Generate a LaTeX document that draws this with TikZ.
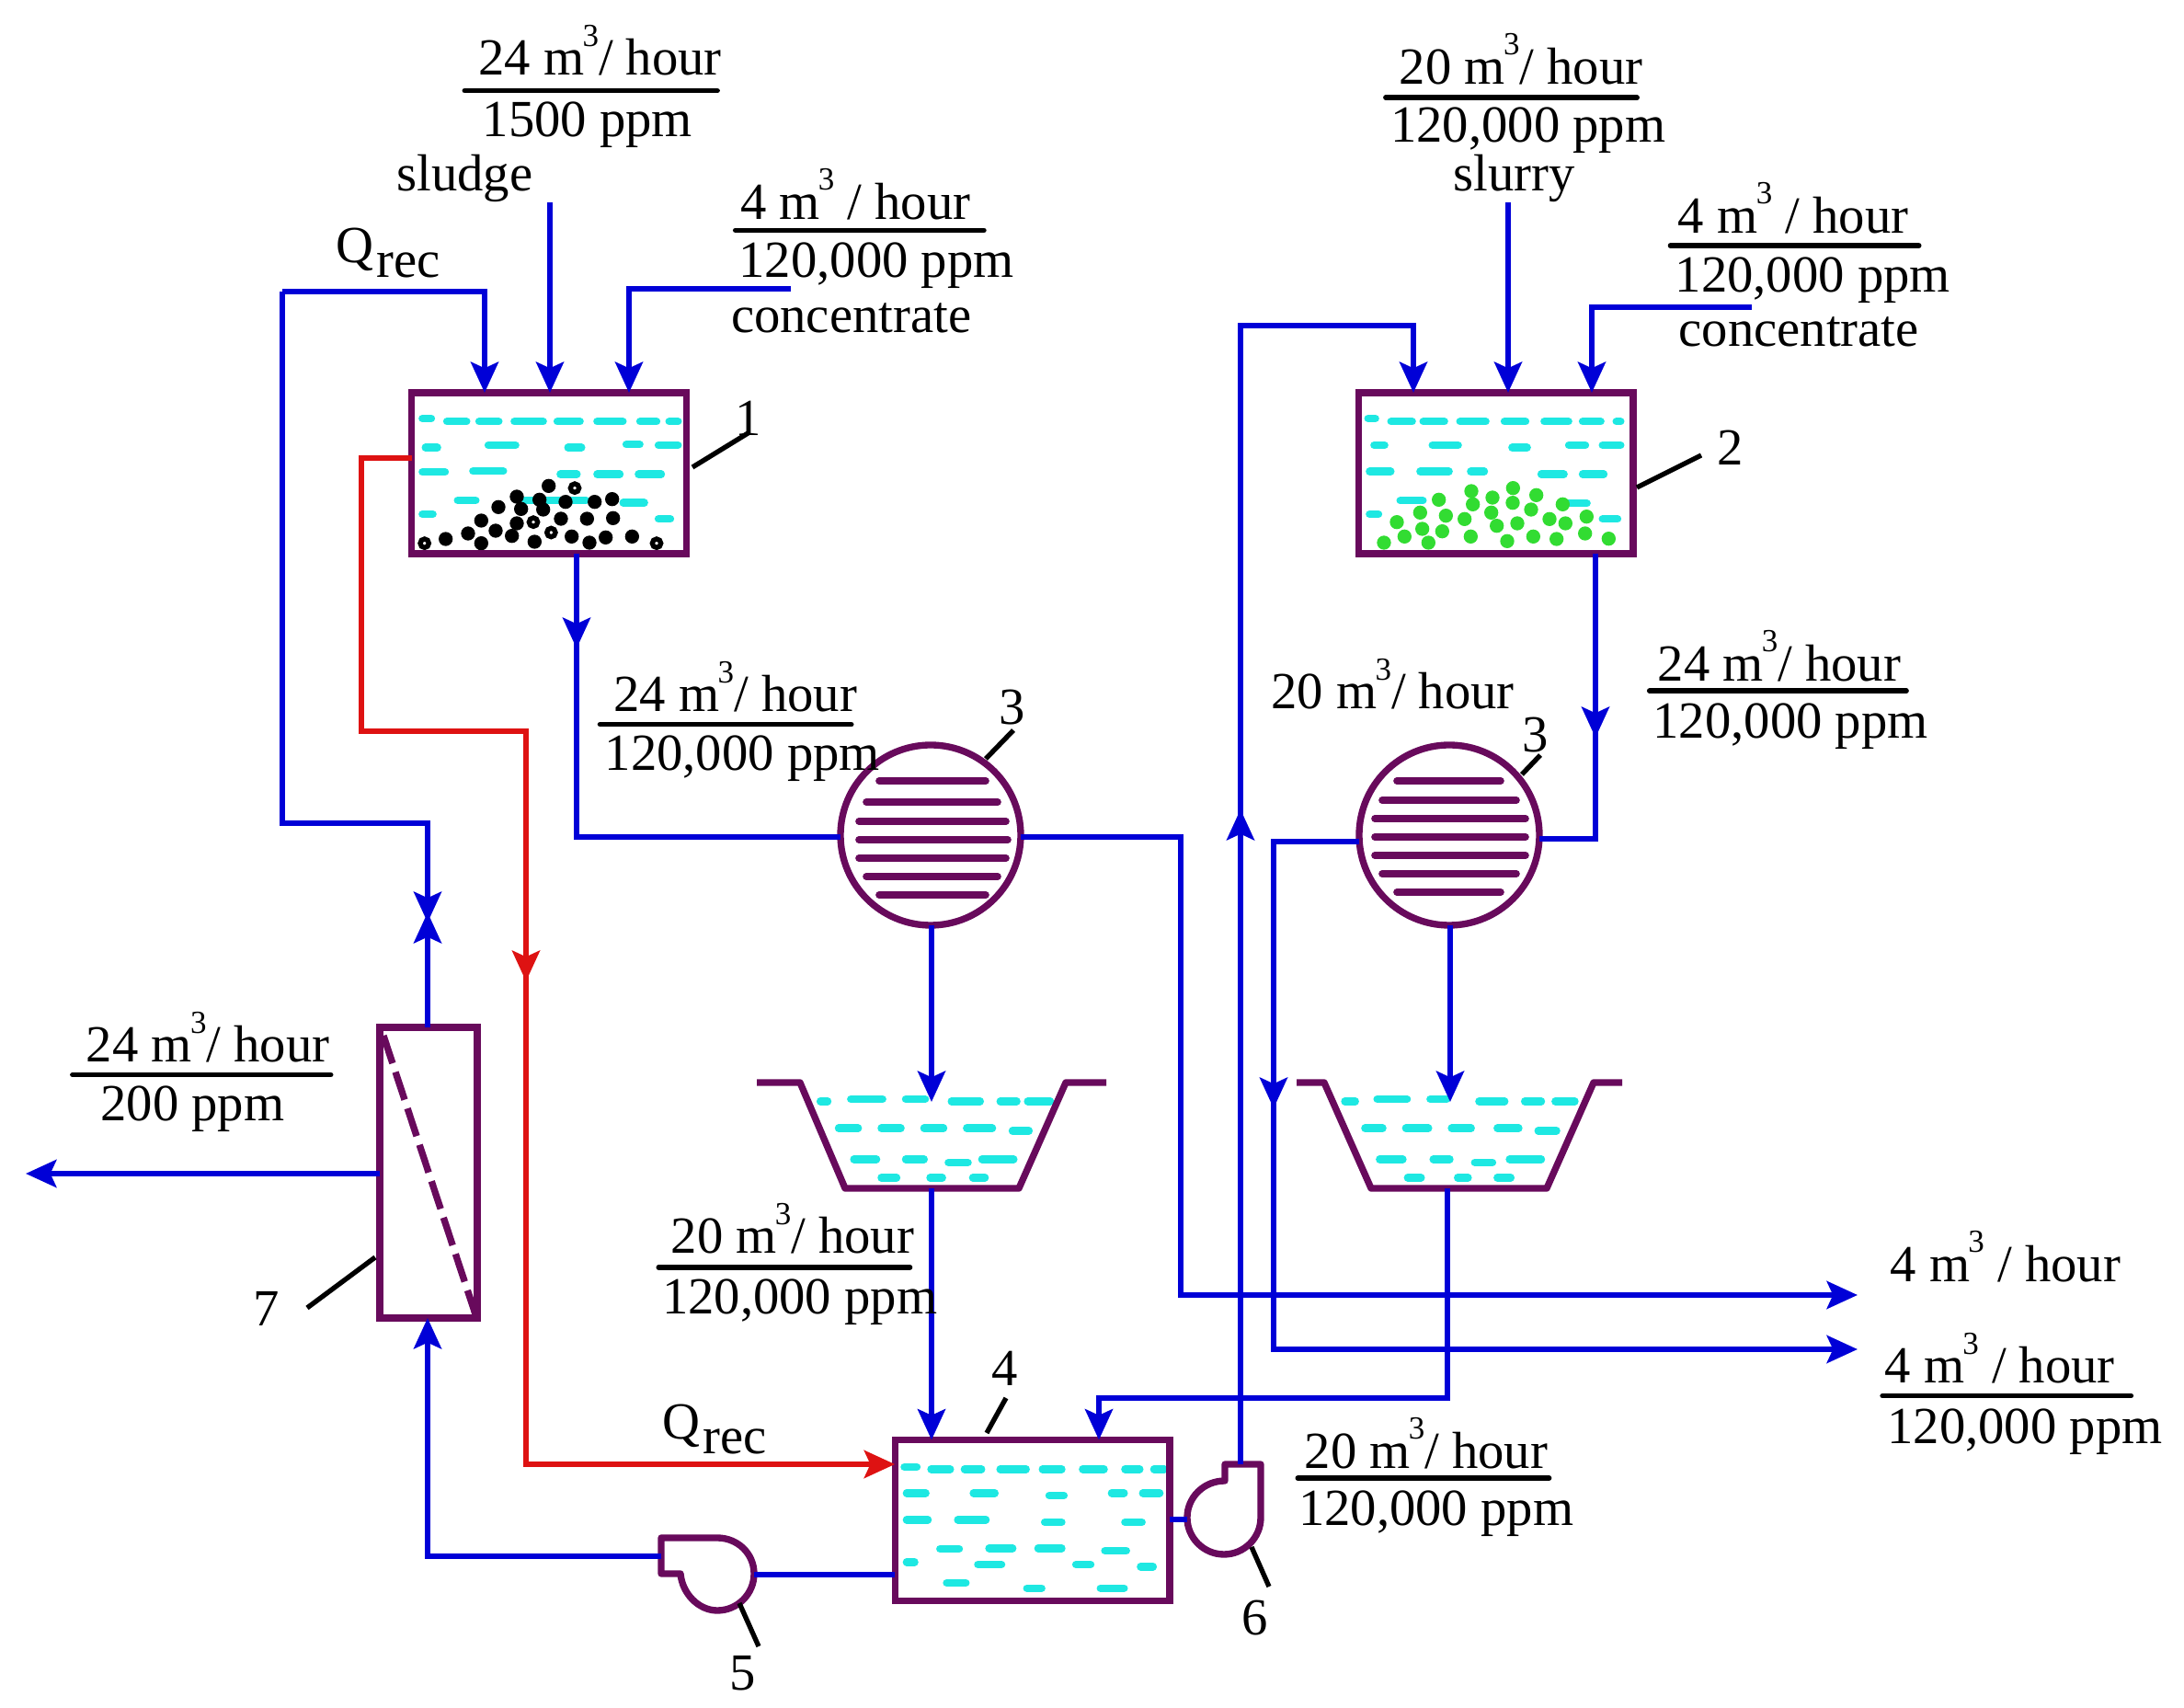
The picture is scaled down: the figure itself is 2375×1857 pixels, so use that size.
\documentclass[tikz,border=0pt]{standalone}
\usepackage{fontspec}
\setmainfont{Liberation Serif}
\usetikzlibrary{arrows.meta}
\definecolor{purp}{RGB}{104,10,92}
\definecolor{bluep}{RGB}{0,0,215}
\definecolor{redp}{RGB}{222,18,18}
\definecolor{wat}{RGB}{30,232,226}
\definecolor{grn}{RGB}{50,220,50}
\newcommand{\mth}{m\kern-.03em\raisebox{.56em}{\fontsize{10.5}{10.5}\selectfont 3}}
\newcommand{\qrec}{Q\kern.06em\raisebox{-.28em}{rec}}
\tikzset{
  tankbox/.style={draw=purp,line width=2.2pt,minimum width=89.6pt,minimum height=52.5pt,inner sep=0pt,outer sep=0pt},
  memb/.style={draw=purp,line width=2.2pt,minimum width=31.8pt,minimum height=94.8pt,inner sep=0pt,outer sep=0pt},
  exch/.style={draw=purp,line width=2.2pt,circle,minimum size=58.8pt,inner sep=0pt,outer sep=0pt},
  equip/.style={draw=purp,line width=2.2pt,line join=round},
  bars/.style={draw=purp,line width=2.3pt,line cap=round},
  pipe/.style={draw=bluep,line width=1.8pt,line join=miter},
  redpipe/.style={draw=redp,line width=1.8pt,line join=miter},
  tip/.style={-{Stealth[length=10pt,width=9pt,inset=2pt]}},
  water/.style={draw=wat,line width=2.5pt,line cap=round},
  leader/.style={draw=black,line width=1.6pt},
  fracbar/.style={draw=black,line width=1.7pt,line cap=round},
  lab/.style={anchor=base,inner sep=0pt,outer sep=0pt,font=\fontsize{17}{18}\selectfont},
  disp/.style={x=0.45528pt,y=-0.45528pt}
}
\begin{document}
\begin{tikzpicture}[x=0.3pt,y=-0.3pt]
\useasboundingbox (0,0) rectangle (2375,1857);
% water, tank 1
\begin{scope}[shift={(380,380)},x=0.1pt,y=-0.1pt]
\foreach \a/\b/\y in {230/275/225,310/390/235,415/495/235,530/640/235,670/760/235,800/900/235,940/1010/235,1035/1080/235,
240/295/320,445/550/312,705/765/320,895/955/310,1000/1080/312,
230/320/400,395/510/397,680/750/407,800/890/407,935/1025/407,
345/420/492,565/780/492,885/970/500,230/280/537,1000/1055/553}
  \draw[water] ({\a+8},\y) -- ({\b-8},\y);
\foreach \p/\q in {650/445,546/480,486/514,560/520,620/490,632/522,705/497,800/497,857/488,430/558,546/567,690/552,775/552,860/550,477/591,387/600,314/618,530/608,604/627,725/610,430/632,783/630,836/613,922/610}
  \fill[black] (\p,\q) circle[radius=23];
\foreach \p/\q in {735/452,600/563,658/597,245/632,1002/632}
  \draw[black,line width=1.6pt] (\p,\q) circle[radius=14];
\end{scope}
% water, tank 2
\begin{scope}[shift={(1440,380)},x=0.1pt,y=-0.1pt]
\foreach \a/\b/\y in {135/175/225,210/295/235,315/400/235,435/535/235,580/665/235,710/805/235,835/910/235,945/975/235,
155/205/312,345/445/312,605/670/320,790/860/312,900/975/312,
140/225/398,305/415/398,470/530/398,700/790/407,835/920/407,
240/330/493,770/865/502,140/185/537,900/965/553}
  \draw[water] ({\a+8},\y) -- ({\b-8},\y);
\foreach \p/\q in {480/462,616/452,692/475,549/483,374/490,485/505,615/500,778/505,313/532,397/542,545/532,675/522,856/545,237/563,458/553,735/553,787/567,320/585,385/593,563/575,630/567,851/600,262/610,478/610,682/610,758/618,928/617,195/630,340/630,597/625}
  \fill[grn] (\p,\q) circle[radius=23];
\end{scope}
% water, tank 4
\begin{scope}[shift={(680,1520)},x=0.14542pt,y=-0.1pt]
\foreach \a/\b/\y in {620/660/225,680/735/232,755/805/232,835/905/232,930/985/232,1020/1080/232,1115/1160/232,1180/1215/232,
625/680/310,775/835/310,945/990/318,1085/1125/310,1155/1205/310,
625/685/397,740/815/397,935/985/405,1115/1165/405,
700/755/492,810/875/490,920/985/490,1070/1130/498,
625/655/535,785/850/543,1005/1050/543,1150/1190/550,
715/770/603,895/940/620,1060/1125/620}
  \draw[water] ({\a+6},\y) -- ({\b-6},\y);
\end{scope}
% water, settlers
\begin{scope}[shift={(780,780)},x=0.19898pt,y=-0.10331pt]
\foreach \a/\b/\y in {165/185/1212,215/275/1205,305/345/1205,380/435/1212,460/495/1212,505/550/1212,
195/235/1297,265/305/1297,335/375/1297,405/455/1297,480/515/1305,
220/265/1395,305/343/1395,375/415/1405,430/490/1395,265/298/1453,345/373/1453,415/443/1453,
1025/1050/1212,1078/1135/1205,1165/1200/1205,1245/1295/1212,1320/1355/1212,1370/1410/1212,
1058/1095/1297,1125/1170/1297,1200/1240/1297,1275/1318/1297,1342/1380/1305,
1082/1128/1395,1170/1205/1395,1238/1275/1405,1295/1355/1395,1128/1158/1453,1210/1235/1453,1275/1305/1453}
  \draw[water] ({\a+4},\y) -- ({\b-4},\y);
\end{scope}
% equipment
\node[tankbox] (t1) at (597,514.5) {};
\node[tankbox] (t2) at (1626.5,514.5) {};
\node[tankbox] (t4) at (1122.5,1653) {};
\node[memb] (mb) at (466,1275) {};
\node[exch] (c1) at (1012,908) {};
\node[exch] (c2) at (1576,908) {};
\foreach \y/\a/\b in {849/956/1072,872/942/1085,893/934/1094,913/934/1096,933/934/1094,953/942/1085,973/956/1072}
  \draw[bars] (\a,\y) -- (\b,\y);
\foreach \y/\a/\b in {849/1519/1632,870/1503/1649,890/1495/1659,910/1495/1659,930/1495/1659,950/1503/1649,970/1519/1632}
  \draw[bars] (\a,\y) -- (\b,\y);
\draw[equip] (823,1177) -- (870,1177) -- (919,1292) -- (1108,1292) -- (1159,1177) -- (1203,1177);
\draw[equip] (1410,1177) -- (1440,1177) -- (1491,1292) -- (1682,1292) -- (1733,1177) -- (1764,1177);
\draw[equip] (719,1672) -- (780,1672) .. controls (802,1672) and (820,1689) .. (820,1711) .. controls (820,1733) and (802,1751) .. (780,1751) .. controls (760,1751) and (742,1733) .. (740,1711) -- (719,1711) -- cycle;
\draw[equip] (1332,1592) -- (1371,1592) -- (1371,1650) .. controls (1371,1672) and (1353,1690) .. (1331,1690) .. controls (1309,1690) and (1291,1672) .. (1291,1650) .. controls (1291,1628) and (1309,1610) .. (1332,1610) -- cycle;
\draw[draw=purp,line width=2.2pt,dash pattern=on 9.5pt off 3pt] (417,1126) -- (518,1432);
% named points
\coordinate (s1) at (598,220);
\coordinate (s2) at (1640,220);
\coordinate (k1) at (860,314);
\coordinate (k1c) at (684,314);
\coordinate (k2) at (1905,334);
\coordinate (k2c) at (1731,334);
\coordinate (qa) at (527,317);
\coordinate (qb) at (307,317);
\coordinate (qc) at (307,895);
\coordinate (qd) at (465,895);
\coordinate (qe) at (465,1003);
\coordinate (qf) at (465,992);
\coordinate (ba) at (627,705);
\coordinate (bb) at (627,910);
\coordinate (ca) at (1284,910);
\coordinate (cb) at (1284,1408);
\coordinate (cc) at (2020,1408);
\coordinate (da) at (1385,915);
\coordinate (db) at (1385,1205);
\coordinate (dc) at (1385,1467);
\coordinate (dd) at (2020,1467);
\coordinate (ea) at (1735,912);
\coordinate (eb) at (1735,802);
\coordinate (fa) at (1349,880);
\coordinate (fb) at (1349,354);
\coordinate (fc) at (1537,354);
\coordinate (pf) at (1349,1592);
\coordinate (pe) at (1291,1652);
\coordinate (pd) at (820,1712);
\coordinate (pc) at (719,1692);
\coordinate (pg) at (465,1692);
\coordinate (fo) at (1574,1292);
\coordinate (fp) at (1574,1520);
\coordinate (fq) at (1195,1520);
\coordinate (fr) at (1013,1292);
\coordinate (cb1) at (1013,1198);
\coordinate (cb2) at (1577,1198);
\coordinate (ra) at (393,498);
\coordinate (rb) at (393,795);
\coordinate (rc) at (572,795);
\coordinate (rd) at (572,1067);
\coordinate (re) at (572,1592);
\coordinate (ot) at (28,1276);
% pipes
\draw[pipe,tip] (s1) -- (s1 |- t1.north);
\draw[pipe,tip] (s2) -- (s2 |- t2.north);
\draw[pipe,tip] (k1) -- (k1c) -- (k1c |- t1.north);
\draw[pipe,tip] (k2) -- (k2c) -- (k2c |- t2.north);
\draw[pipe,tip] (qb) -- (qa) -- (qa |- t1.north);
\draw[pipe,tip] (qb) -- (qc) -- (qd) -- (qe);
\draw[pipe,tip] (qf |- mb.north) -- (qf);
\draw[pipe] (ba |- t1.south) -- (bb) -- (bb -| c1.west);
\draw[pipe,tip] (ba |- t1.south) -- (ba);
\draw[pipe,tip] (ca -| c1.east) -- (ca) -- (cb) -- (cc);
\draw[pipe,tip] (da -| c2.west) -- (da) -- (dc) -- (dd);
\draw[pipe,tip] (da) -- (db);
\draw[pipe] (ea -| c2.east) -- (ea) -- (ea |- t2.south);
\draw[pipe,tip] (ea |- t2.south) -- (eb);
\draw[pipe,tip] (pf) -- (fb) -- (fc) -- (fc |- t2.north);
\draw[pipe,tip] (pf) -- (fa);
\draw[pipe,tip] (cb1 |- c1.south) -- (cb1);
\draw[pipe,tip] (cb2 |- c2.south) -- (cb2);
\draw[pipe,tip] (fr) -- (fr |- t4.north);
\draw[pipe,tip] (fo) -- (fp) -- (fq) -- (fq |- t4.north);
\draw[pipe] (pe -| t4.east) -- (pe);
\draw[pipe] (pd -| t4.west) -- (pd);
\draw[pipe,tip] (pc) -- (pg) -- (pg |- mb.south);
\draw[pipe,tip] (ot -| mb.west) -- (ot);
\draw[redpipe,tip] (ra -| t1.west) -- (ra) -- (rb) -- (rc) -- (re) -- (re -| t4.west);
\draw[redpipe,tip] (rc) -- (rd);
% leaders
\draw[leader] (753,508) -- (815,470);
\draw[leader] (1780,530) -- (1850,495);
\draw[leader] (1072,825) -- (1102,794);
\draw[leader] (1655,842) -- (1675,821);
\draw[leader] (1073,1558) -- (1094,1520);
\draw[leader] (804,1743) -- (825,1790);
\draw[leader] (1361,1682) -- (1380,1725);
\draw[leader] (408,1367) -- (334,1422);
% labels
\begin{scope}[disp]
\node[lab] (a1) at (430,54) {24 \mth/ hour};
\draw[fracbar] (333,65) -- (514,65);
\node[lab] (a2) at (421,98) {1500 ppm};
\node[lab] (a3) at (333,137) {sludge};
\node[lab] (b1) at (613,157) {4 \mth\ / hour};
\draw[fracbar] (527,165) -- (705,165);
\node[lab] (b2) at (628,199) {120,000 ppm};
\node[lab] (b3) at (610,238) {concentrate};
\node[lab] (q1) at (278,188) {\qrec};
\node[lab] (c1t) at (1090,60) {20 \mth/ hour};
\draw[fracbar] (993,70) -- (1173,70);
\node[lab] (c2t) at (1095,102) {120,000 ppm};
\node[lab] (c3t) at (1085,137) {slurry};
\node[lab] (d1) at (1285,167) {4 \mth\ / hour};
\draw[fracbar] (1197,176) -- (1375,176);
\node[lab] (d2) at (1299,209) {120,000 ppm};
\node[lab] (d3) at (1289,248) {concentrate};
\node[lab] (n1) at (536,312) {1};
\node[lab] (n2) at (1240,333) {2};
\node[lab] (e1) at (527,510) {24 \mth/ hour};
\draw[fracbar] (430,519) -- (610,519);
\node[lab] (e2) at (532,552) {120,000 ppm};
\node[lab] (n3) at (725,519) {3};
\node[lab] (n3b) at (1100,539) {3};
\node[lab] (f1) at (998,508) {20 \mth/ hour};
\node[lab] (g1) at (1275,488) {24 \mth/ hour};
\draw[fracbar] (1182,495) -- (1366,495);
\node[lab] (g2) at (1283,529) {120,000 ppm};
\node[lab] (h1) at (149,761) {24 \mth/ hour};
\draw[fracbar] (52,770) -- (237,770);
\node[lab] (h2) at (138,803) {200 ppm};
\node[lab] (n7) at (191,950) {7};
\node[lab] (i1) at (568,898) {20 \mth/ hour};
\draw[fracbar] (472,908) -- (652,908);
\node[lab] (i2) at (573,941) {120,000 ppm};
\node[lab] (n4) at (720,993) {4};
\node[lab] (q2) at (512,1031) {\qrec};
\node[lab] (j1) at (1437,918) {4 \mth\ / hour};
\node[lab] (k1t) at (1433,991) {4 \mth\ / hour};
\draw[fracbar] (1349,1000) -- (1527,1000);
\node[lab] (k2t) at (1451,1034) {120,000 ppm};
\node[lab] (l1) at (1022,1052) {20 \mth/ hour};
\draw[fracbar] (930,1059) -- (1110,1059);
\node[lab] (l2) at (1029,1093) {120,000 ppm};
\node[lab] (n5) at (532,1211) {5};
\node[lab] (n6) at (899,1171) {6};
\end{scope}
\end{tikzpicture}
\end{document}
